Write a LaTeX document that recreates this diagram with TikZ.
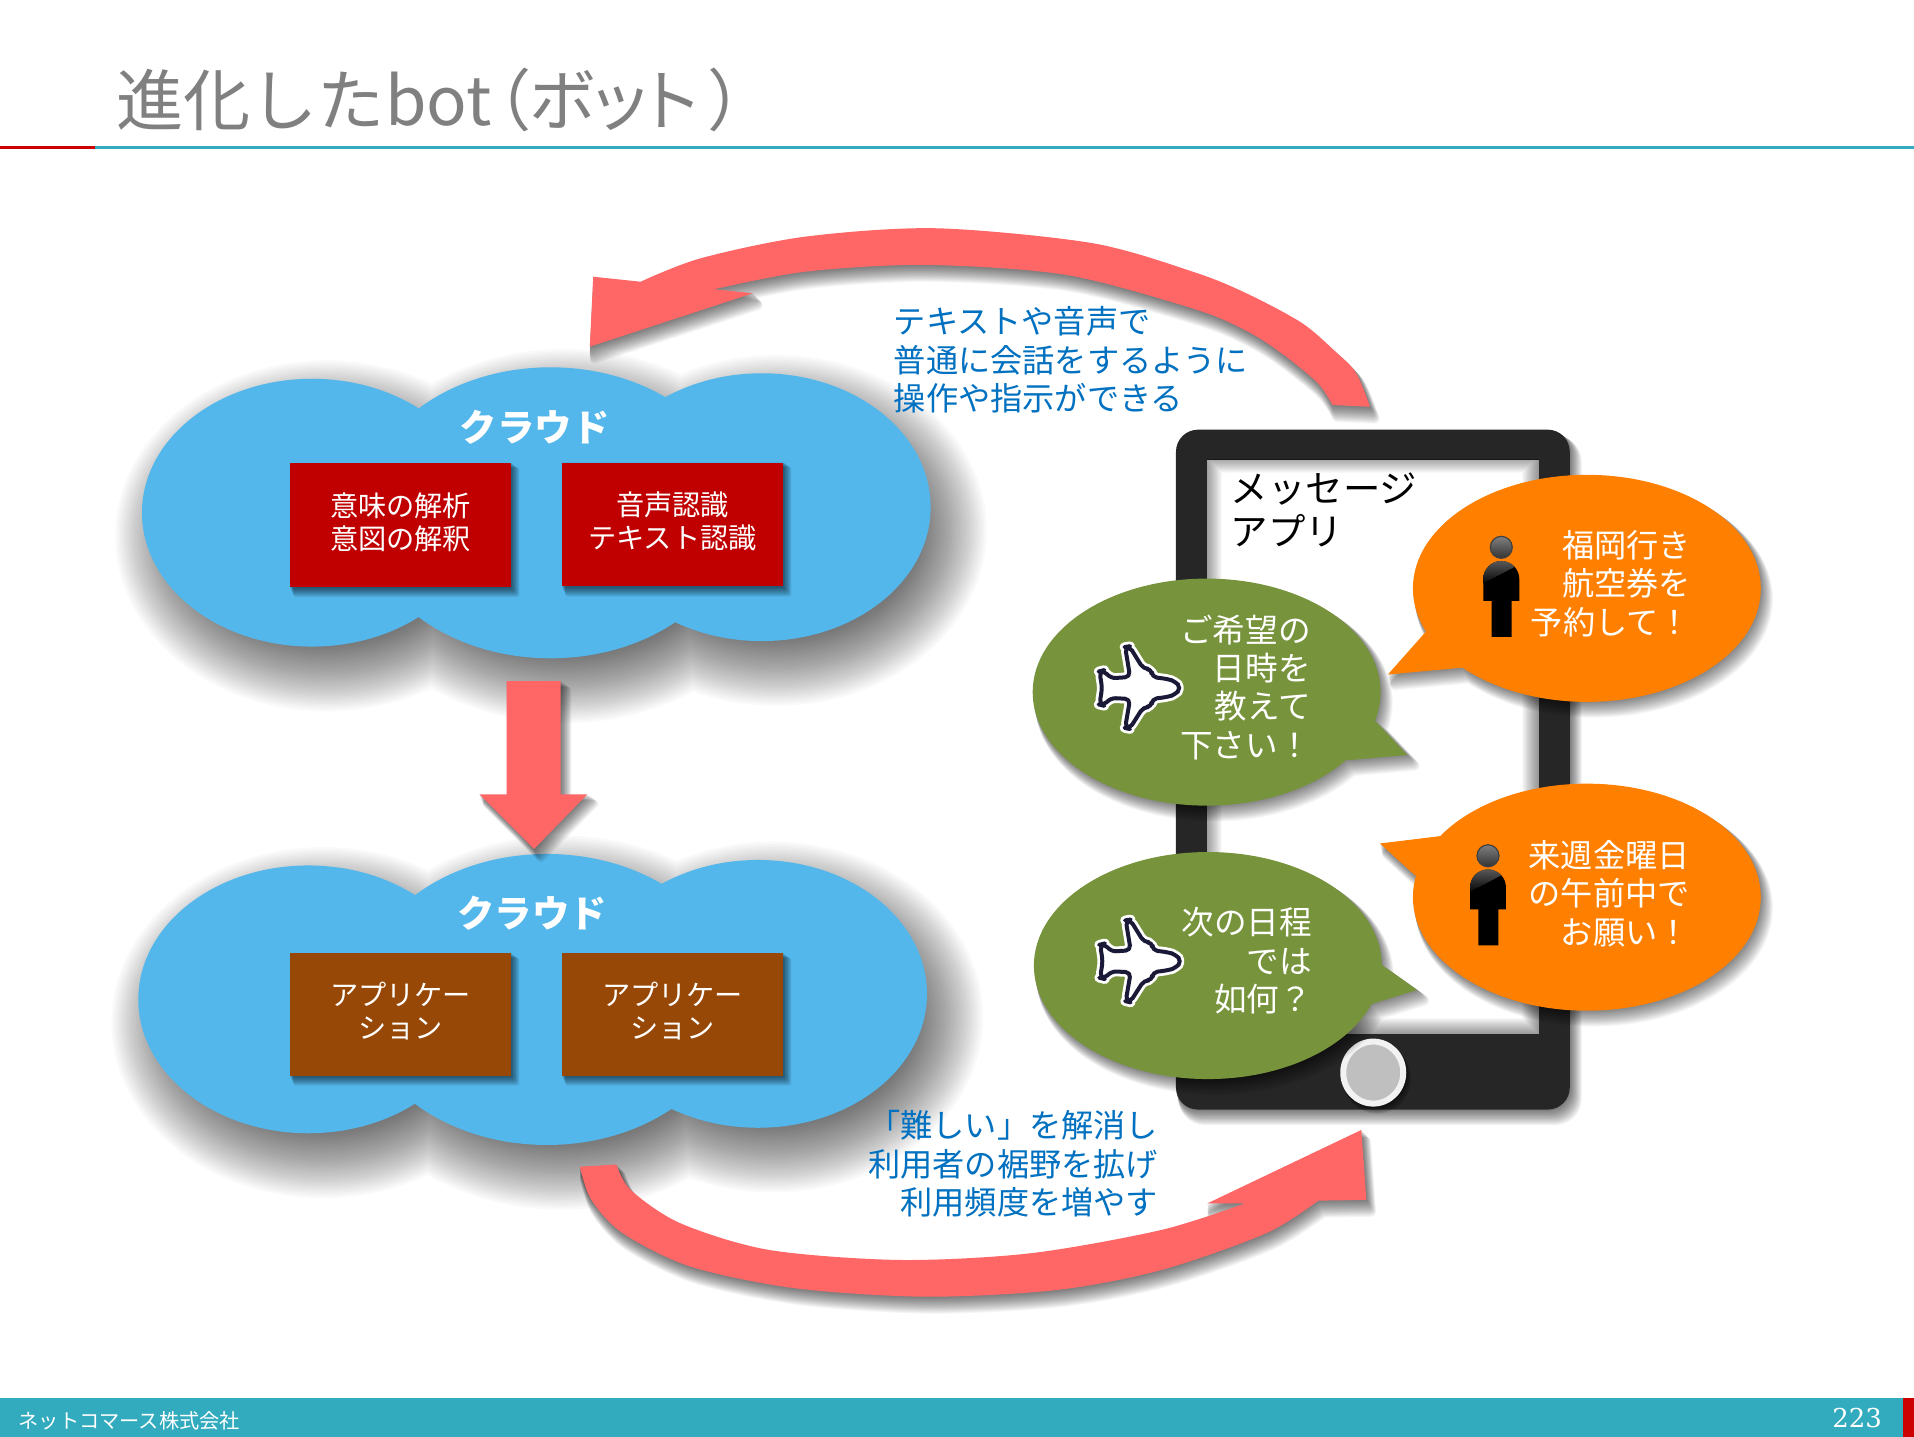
\documentclass[tikz,border=0pt]{standalone}
\usetikzlibrary{shapes.geometric}
\usepackage{fontspec}
\setmainfont{Noto Sans CJK JP}
\newfontfamily\titlefont[RawFeature=+palt]{Noto Sans CJK JP}
\newfontfamily\numfont{DejaVu Serif}
\definecolor{teal}{HTML}{33ABBF}
\definecolor{redrule}{HTML}{CC0000}
\definecolor{cloudblue}{HTML}{54B7EB}
\definecolor{pink}{HTML}{FF6666}
\definecolor{boxred}{HTML}{C00000}
\definecolor{boxbrown}{HTML}{974806}
\definecolor{bgreen}{HTML}{77933C}
\definecolor{borange}{HTML}{FF8000}
\definecolor{textblue}{HTML}{0070C0}
\definecolor{phonedark}{HTML}{262626}
\definecolor{planeink}{HTML}{1A1A38}
% motion-blurred shadow: layers slide out towards (dx,dy) while growing by extent
\newcommand\softshadow[5]{% dx dy extent alpha commands
  \foreach \shi in {1,...,20}{%
    \pgfmathsetmacro\shw{#3*\shi/20*1.22}%
    \begin{scope}[shift={({#1*\shi/20},{#2*\shi/20})},transparency group,opacity=#4,
       sh/.style={fill=black,draw=black,line join=round,line width=\shw pt}]
      #5
    \end{scope}
  }%
}
% cloud outline, radii grown by #2
\newcommand\cloudshapes[2]{%
  \path[#1] (255.6,420) ellipse [x radius=139.3+#2,y radius=109.7+#2];
  \path[#1] (451,420.1) ellipse [x radius=155+#2,y radius=119.2+#2];
  \path[#1] (624,415.5) ellipse [x radius=138.4+#2,y radius=109.7+#2];
}
\newcommand\cloudshadow{%
  \foreach \e in {-30,-28,...,34}{%
    \begin{scope}[shift={(12,19)},transparency group,opacity=.025]
      \cloudshapes{fill=black}{\e}
    \end{scope}
  }%
}
\newcommand\topshape{(1122.3,333.2) -- plot[smooth] coordinates {(1122.3,333.2) (1110.6,305) (1092.5,286.7) (1066.7,264.7) (1024,241.7) (981,223.9) (895.4,199.3) (766.8,187) (659.6,193.9) (574,211.6) (524.8,230.8)} -- (486,226.7) -- (483.2,284) -- (616.9,240.2) -- (584.8,237) -- plot[smooth] coordinates {(584.8,237) (659.6,222.6) (758,217) (874,225.3) (981,254) (1024,272.6) (1052,291) (1079.7,314) (1091.6,331.8)} -- cycle}
\newcommand\bottomshape{(475,955.8) -- (505,954) -- plot[smooth] coordinates {(505,954) (516.6,974.8) (557.3,1002.1) (630.1,1024) (737.3,1032.2) (844.3,1026.7) (951.5,1007.6) (1020,985.8)} -- (989.2,985.8) -- (1115.2,925.7) -- (1119.4,983) -- (1080,983.6) -- plot[smooth] coordinates {(1080,983.6) (1037.1,1010.4) (951.5,1040.4) (865.8,1056.8) (758.6,1062.3) (651.6,1055.4) (565.9,1037.7) (510.2,1010.3) (484.5,983) (475,955.8)} -- cycle}
\newcommand\downshape{(415,557.9) -- (459.2,557.9) -- (459.2,650.7) -- (481.2,650.7) -- (437.5,695.5) -- (392.7,650.7) -- (415,650.7) -- cycle}
% speech bubble: centre x, centre y, base1, tip, base2
\newcommand\bubbleshadow[5]{%
  \path[sh] (#1,#2) ellipse [x radius=142.5,y radius=93];
  \path[sh] (#3) -- (#4) -- (#5) -- (#1,#2) -- cycle;
}
\newcommand\bubble[6]{%
  \softshadow{6}{9}{4}{0.028}{\bubbleshadow{#1}{#2}{#3}{#4}{#5}}
  \fill[#6] (#1,#2) ellipse [x radius=142.5,y radius=93];
  \fill[#6] (#3) -- (#4) -- (#5) -- (#1,#2) -- cycle;
}
\newcommand\planeicon[2]{%
  \begin{scope}[shift={(#1,#2)},scale=.273]
   \begin{scope}[shift={(-180,-175)}]
    \def\planepath{(303,175) -- (285,155) -- (262,148) -- (215,142) -- (215,118) -- (190,118) -- (148,50) -- (135,52) -- (150,142) -- (92,146) -- (70,122) -- (58,125) -- (66,175) -- (58,225) -- (70,228) -- (92,205) -- (150,208) -- (135,295) -- (148,298) -- (190,232) -- (215,232) -- (215,208) -- (262,202) -- (285,195) -- cycle}
    \draw[white,line width=4.8pt,line join=round,rounded corners=2.5pt] \planepath;
    \draw[planeink,fill=white,line width=2pt,line join=round,rounded corners=2.5pt] \planepath;
   \end{scope}
  \end{scope}
}
\newcommand\personicon[2]{%
  \begin{scope}[shift={(#1,#2)},scale=.273]
   \begin{scope}[shift={(-124,-200)}]
    \shade[top color=black!50,bottom color=black!80,draw=black!75,line width=.6pt] (124,82) circle [radius=33];
    \def\bodypath{(70,243) -- (70,177) arc [start angle=180,end angle=360,x radius=54,y radius=54] -- (178,243) -- (155,243) -- (155,351) -- (95,351) -- (95,243) -- cycle}
    \fill[black] \bodypath;
    \begin{scope}
      \clip \bodypath;
      \shade[top color=black!62,bottom color=black] (60,115) -- (175,115) -- (175,135) -- (60,195) -- cycle;
    \end{scope}
   \end{scope}
  \end{scope}
}
\tikzset{
  boxnode/.style={minimum width=110.5pt,minimum height=61.8pt,inner sep=0pt},
  boxtext/.style={inner sep=0pt,text=white,align=center,font=\fontsize{14.1}{16.6}\selectfont},
  bluetext/.style={inner sep=0pt,text=textblue,font=\fontsize{16.1}{19.3}\selectfont},
  bubbletext/.style={inner sep=0pt,text=white,anchor=east,align=right,font=\fontsize{16.3}{19.2}\selectfont},
  orangetext/.style={bubbletext,font=\fontsize{16.1}{19.2}\selectfont},
  cloudlabel/.style={inner sep=0pt,text=white,font=\bfseries\fontsize{18.7}{20}\selectfont},
}
\begin{document}
\begin{tikzpicture}[x=0.61035pt,y=-0.61035pt]
\useasboundingbox (0,0) rectangle (1568,1177.2);
\fill[white] (0,0) rectangle (1568,1177.2);
% header
\node[inner sep=0pt,anchor=west,text=black!50,font=\fontsize{33.6}{38}\selectfont] (title) at (95,82) {進化したbot{\titlefont\kern2pt（ボット\kern5.5pt）}};
\fill[teal] (78,119.8) rectangle (1568,122);
\fill[redrule] (0,119.8) rectangle (78,122);
% footer
\fill[teal] (0,1145.2) rectangle (1568,1177.2);
\fill[redrule] (1559,1145.2) rectangle (1568,1177.2);
\node[inner sep=0pt,anchor=west,text=white,font=\fontsize{10.1}{12}\selectfont] (company) at (15,1164) {ネットコマース株式会社};
\node[inner sep=0pt,anchor=east,text=white,font=\numfont\fontsize{13}{15}\selectfont] (pageno) at (1542,1161.5) {223};
% top cloud
\cloudshadow
\cloudshapes{fill=cloudblue}{0}
\softshadow{5}{6}{2}{0.03}{\path[sh] (237.6,379.3) rectangle (418.7,481.4); \path[sh] (460.4,378.5) rectangle (641.5,480.9);}
\node[boxnode,fill=boxred] (b1) at (328.1,430.3) {};
\node[boxnode,fill=boxred] (b2) at (551,429.7) {};
\node[boxtext] (b1t) at (328.1,428) {意味の解析\\意図の解釈};
\node[boxtext] (b2t) at (551,427) {音声認識\\テキスト認識};
\node[cloudlabel] (c1) at (438,350) {クラウド};
% bottom cloud
\begin{scope}[shift={(-3,398.7)}]
\cloudshadow
\cloudshapes{fill=cloudblue}{0}
\end{scope}
\softshadow{5}{6}{2}{0.03}{\path[sh] (237.6,780.8) rectangle (418.7,881.6); \path[sh] (460.4,780.8) rectangle (641.5,881.6);}
\node[boxnode,fill=boxbrown] (b3) at (328.1,831.2) {};
\node[boxnode,fill=boxbrown] (b4) at (551,831.2) {};
\node[boxtext] (b3t) at (328.1,828.5) {アプリケー\\ション};
\node[boxtext] (b4t) at (551,828.5) {アプリケー\\ション};
\node[cloudlabel] (c2) at (436,748) {クラウド};
% arrows
\softshadow{4}{10}{4}{0.03}{\path[sh] \topshape;}
\fill[pink] \topshape;
\softshadow{6}{8}{3}{0.03}{\path[sh] \downshape;}
\fill[pink] \downshape;
\softshadow{4}{10}{4}{0.03}{\path[sh] \bottomshape;}
\fill[pink] \bottomshape;
% explanatory text
\node[bluetext,anchor=west,align=left] (t1) at (732,295) {テキストや音声で\\普通に会話をするように\\操作や指示ができる};
\node[bluetext,anchor=east,align=right] (t2) at (949,953.5) {「難しい」を解消し\\利用者の裾野を拡げ\\利用頻度を増やす};
% phone
\softshadow{6}{9}{4}{0.03}{\path[sh] [rounded corners=11pt] (963.4,352) rectangle (1286,909);}
\fill[phonedark,rounded corners=11pt] (963.4,352) rectangle (1286,909);
\fill[white] (989,376.6) rectangle (1260.6,846.7);
\begin{scope}
  \clip (989,376.6) rectangle (1260.6,846.7);
  \foreach \w in {1,2,...,18}{
    \draw[black,opacity=.028,line width=\w pt] (986,373) rectangle (1262,849);
  }
\end{scope}
\softshadow{3}{5}{2}{0.03}{\path[sh] (1125,878.7) ellipse [x radius=26,y radius=27];}
\node[draw=black!5,fill=black!25,line width=3pt,ellipse,inner sep=0pt,
      minimum width=30pt,minimum height=31pt] (home) at (1125,878.7) {};
\node[inner sep=0pt,anchor=west,align=left,text=black,font=\fontsize{18.7}{21.4}\selectfont] (apptitle) at (1008,418) {メッセージ\\アプリ};
% bubbles
\bubble{988.5}{567}{1127,591}{1153,618.5}{1103.7,622.8}{bgreen}
\bubble{989.5}{791}{1131.4,790}{1161,811}{1120.8,823.4}{bgreen}
\bubble{1300}{482}{1168,517.6}{1137,552.6}{1197.4,547}{borange}
\bubble{1300}{735}{1179.7,685}{1130.5,691}{1159,717}{borange}
\planeicon{934}{563.6}
\planeicon{934.5}{787.5}
\personicon{1229.9}{480.6}
\personicon{1219}{733.3}
\node[bubbletext] (s1) at (1074,563) {ご希望の\\日時を\\教えて\\下さい！};
\node[bubbletext] (s2) at (1075,787) {次の日程\\では\\如何？};
\node[orangetext] (s3) at (1385.5,478) {福岡行き\\航空券を\\予約して！};
\node[orangetext] (s4) at (1384.5,732) {来週金曜日\\の午前中で\\お願い！};
\end{tikzpicture}
\end{document}
